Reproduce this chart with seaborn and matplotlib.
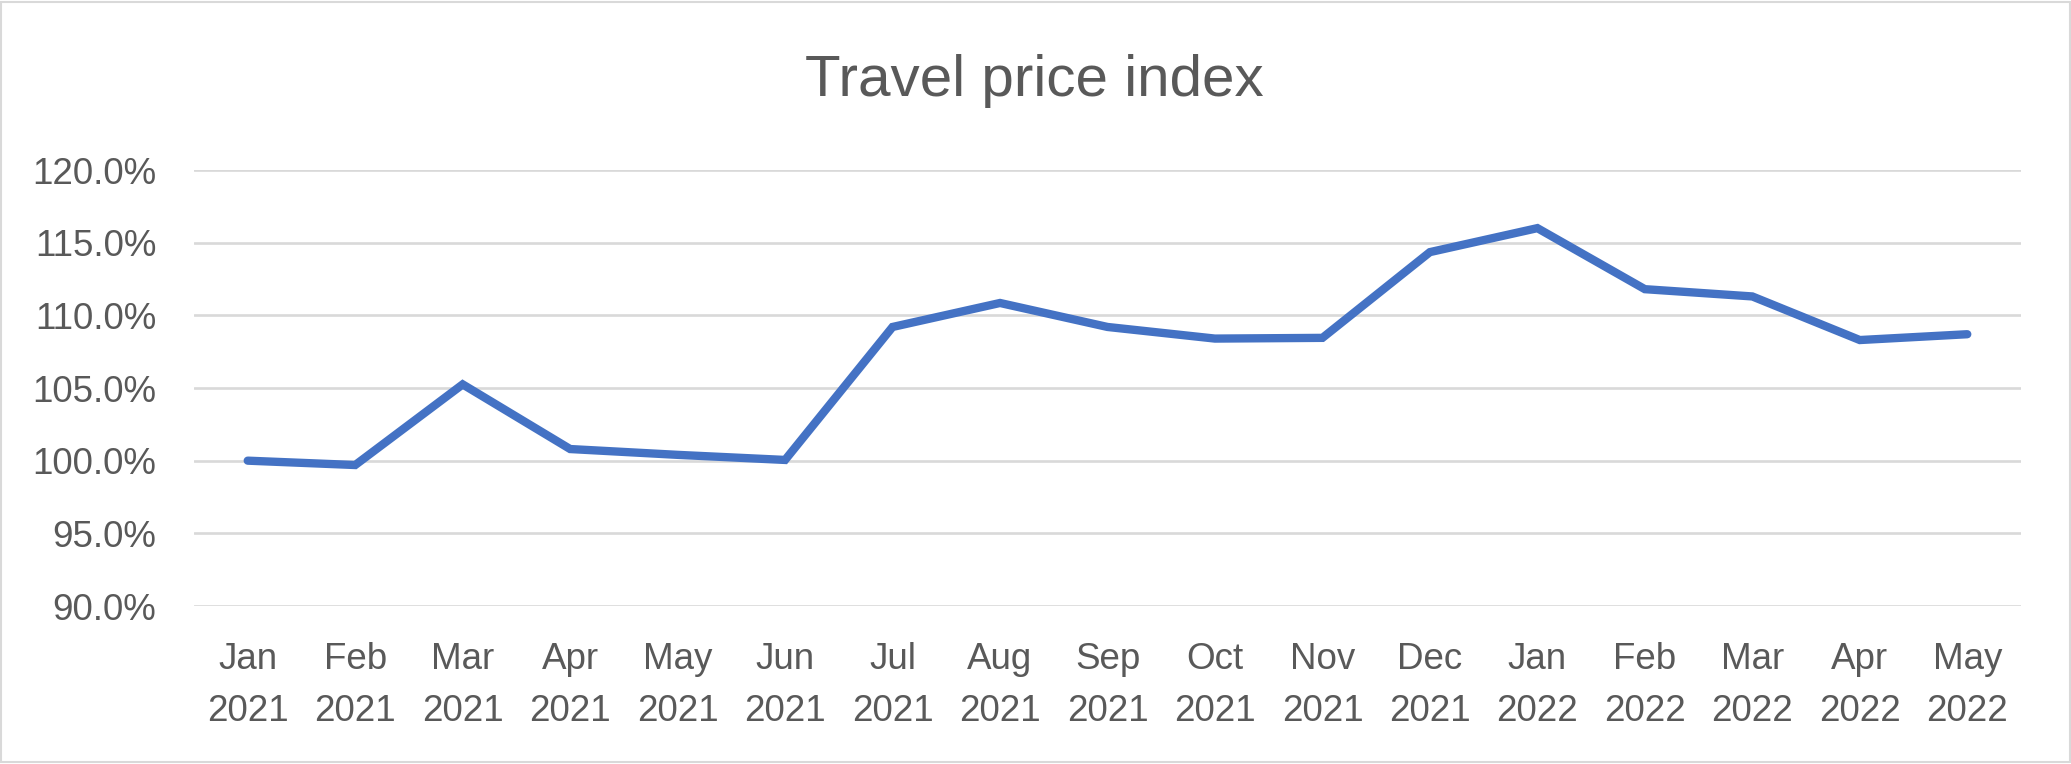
import matplotlib
matplotlib.use("Agg")
import matplotlib.pyplot as plt
import seaborn as sns
import pandas as pd
from matplotlib.patches import Rectangle
from matplotlib.ticker import FuncFormatter, MultipleLocator

months = ["Jan\n2021", "Feb\n2021", "Mar\n2021", "Apr\n2021", "May\n2021", "Jun\n2021",
          "Jul\n2021", "Aug\n2021", "Sep\n2021", "Oct\n2021", "Nov\n2021", "Dec\n2021",
          "Jan\n2022", "Feb\n2022", "Mar\n2022", "Apr\n2022", "May\n2022"]
index_values = [100.0, 99.7, 105.25, 100.8, 100.4, 100.05, 109.2, 110.85, 109.2,
                108.4, 108.45, 114.35, 116.0, 111.8, 111.3, 108.3, 108.7]
title = "Travel price index"

sns.set_theme(style="white")
plt.rcParams['font.family'] = ['Liberation Sans', 'DejaVu Sans']
text_color = "#595959"

df = pd.DataFrame({"month": months, "value": index_values})
df["pos"] = range(len(df))

fig = plt.figure(figsize=(20.71, 7.64), dpi=100)
ax = fig.add_axes([194/2071, 158/764, (2021-194)/2071, (606-170)/764])

sns.lineplot(data=df, x="pos", y="value", ax=ax, color="#4472C4", linewidth=6.0,
             sort=False, solid_capstyle="round", solid_joinstyle="miter")

ax.set_xlim(-0.5, len(months) - 0.5)
ax.set_ylim(90, 120)
ax.yaxis.set_major_locator(MultipleLocator(5))
ax.yaxis.set_major_formatter(FuncFormatter(lambda v, p: f"{v:.1f}%"))
ax.set_xticks(df["pos"])
ax.set_xticklabels(months, linespacing=1.62)
ax.set_xlabel("")
ax.set_ylabel("")
ax.grid(axis="y", color="#D9D9D9", linewidth=1.9)
ax.grid(axis="x", visible=False)
ax.set_axisbelow(True)
for s in ax.spines.values():
    s.set_visible(False)
ax.tick_params(axis="both", length=0, labelsize=26.5, labelcolor=text_color)
ax.tick_params(axis="x", pad=26)
ax.tick_params(axis="y", pad=27)

fig.text(0.4995, 1 - 96/764, title, ha="center", va="baseline", fontsize=42, color=text_color)

fig.patches.append(Rectangle((0.0007, 0.002), 0.9986, 0.996, transform=fig.transFigure,
                             fill=False, edgecolor="#D9D9D9", linewidth=1.5))

fig.savefig("out.png", dpi=100, facecolor="white")
